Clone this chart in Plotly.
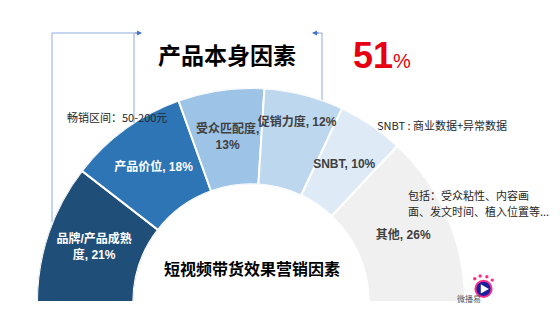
import plotly.graph_objects as go
import numpy as np

# ---- data ----
categories = ["品牌/产品成熟度", "产品价位", "受众匹配度", "促销力度", "SNBT", "其他"]
values = [21, 18, 13, 12, 10, 26]
label_texts = ["品牌/产品成熟<br>度, 21%", "产品价位, 18%", "受众匹配度,<br>13%",
               "促销力度, 12%", "SNBT, 10%", "其他, 26%"]
colors = ["#1F4E79", "#2E75B6", "#9DC3E6", "#BDD7EE", "#DEEBF7", "#F0F0F0"]
label_colors = ["white", "white", "#404040", "#404040", "#404040", "#404040"]
label_r = [0.5, 0.5, 0.5, 0.7, 0.5, 0.5]

W, H = 560, 334
vals = np.array(values, dtype=float)
widths = vals / vals.sum() * 180.0
starts = np.concatenate([[0], np.cumsum(widths)[:-1]])
centers = starts + widths / 2

fig = go.Figure()
fig.add_trace(go.Barpolar(
    r=[1] * len(values), theta=centers, width=widths,
    marker=dict(color=colors, line=dict(color="white", width=2)),
    hoverinfo="skip", showlegend=False,
))
fig.add_trace(go.Scatterpolar(
    r=label_r, theta=centers, mode="text", text=label_texts,
    textfont=dict(family="Liberation Sans, Noto Sans CJK SC", size=12, color=label_colors,
                  weight="bold"),
    hoverinfo="skip", showlegend=False,
))

def px(x):
    return x / W

def py(y):
    return 1 - y / H

cx, cy, R = 251, 302, 214
fig.update_layout(
    width=W, height=H, margin=dict(l=0, r=0, t=0, b=0),
    paper_bgcolor="white", plot_bgcolor="white",
    polar=dict(
        domain=dict(x=[px(cx - R), px(cx + R)], y=[py(cy), py(cy - R)]),
        sector=[0, 180], hole=0.55, bgcolor="rgba(0,0,0,0)",
        radialaxis=dict(visible=False, range=[0, 1]),
        angularaxis=dict(visible=False, rotation=180, direction="clockwise"),
    ),
)

line_col = "#8FAADC"
shapes = [
    dict(type="line", xref="paper", yref="paper", x0=px(52), x1=px(52), y0=py(33), y1=py(222),
         line=dict(color=line_col, width=1)),
    dict(type="line", xref="paper", yref="paper", x0=px(52), x1=px(136), y0=py(33), y1=py(33),
         line=dict(color=line_col, width=1)),
    dict(type="line", xref="paper", yref="paper", x0=px(134), x1=px(134), y0=py(33), y1=py(123),
         line=dict(color=line_col, width=1)),
    dict(type="line", xref="paper", yref="paper", x0=px(322), x1=px(322), y0=py(33), y1=py(100),
         line=dict(color=line_col, width=1)),
    dict(type="line", xref="paper", yref="paper", x0=px(316), x1=px(322), y0=py(33), y1=py(33),
         line=dict(color=line_col, width=1)),
]
fig.update_layout(shapes=shapes)

cjk = "Noto Sans CJK SC, Liberation Sans"
ann = [
    dict(x=px(142), y=py(33), ax=-8, ay=0, showarrow=True, arrowhead=2, arrowsize=1,
         arrowwidth=1, arrowcolor="#4472C4", text=""),
    dict(x=px(312), y=py(33), ax=8, ay=0, showarrow=True, arrowhead=2, arrowsize=1,
         arrowwidth=1, arrowcolor="#4472C4", text=""),
    dict(x=px(227), y=py(35), text="<b>产品本身因素</b>", showarrow=False,
         font=dict(family=cjk, size=23, color="#000000")),
    dict(x=px(351), y=py(33), xanchor="left", text="<b>51</b><span style='font-size:20px'>%</span>",
         showarrow=False, font=dict(family="Liberation Sans, Arial", size=36, color="#E60012")),
    dict(x=px(65), y=py(107), xanchor="left", text="畅销区间：50-200元", showarrow=False,
         font=dict(family=cjk, size=11, color="#262626")),
    dict(x=px(375), y=py(125), xanchor="left", text="SNBT : 商业数据+异常数据", showarrow=False,
         font=dict(family=cjk, size=11, color="#262626")),
    dict(x=px(406), y=py(195), xanchor="left", text="包括：受众粘性、内容画", showarrow=False,
         font=dict(family=cjk, size=11, color="#262626")),
    dict(x=px(406), y=py(211), xanchor="left", text="面、发文时间、植入位置等...", showarrow=False,
         font=dict(family=cjk, size=11, color="#262626")),
    dict(x=px(252), y=py(282), text="<b>短视频带货效果营销因素</b>", showarrow=False,
         font=dict(family=cjk, size=16, color="#000000")),
    dict(x=px(483), y=py(306), text="微播易", showarrow=False,
         font=dict(family=cjk, size=8, color="#555555")),
]
fig.update_layout(annotations=ann)

logo_svg = ("data:image/svg+xml;utf8,"
            "<svg xmlns='http://www.w3.org/2000/svg' width='40' height='40' viewBox='0 0 40 40'>"
            "<circle cx='20' cy='25' r='12' fill='%231b1f9e' stroke='%23ff2d8a' stroke-width='3'/>"
            "<polygon points='16,18 16,32 28,25' fill='white'/>"
            "<circle cx='7' cy='10' r='2.5' fill='%23ff2d8a'/>"
            "<circle cx='15' cy='6' r='2.5' fill='%23ff2d8a'/>"
            "<circle cx='25' cy='7' r='2.5' fill='%23ff2d8a'/>"
            "<circle cx='33' cy='12' r='2.5' fill='%23ff2d8a'/>"
            "</svg>")
fig.update_layout(images=[dict(source=logo_svg, xref="paper", yref="paper",
                               x=px(470), y=py(272), sizex=px(27), sizey=27 / H,
                               xanchor="left", yanchor="top", layer="above")])

fig.write_html("out.html")
